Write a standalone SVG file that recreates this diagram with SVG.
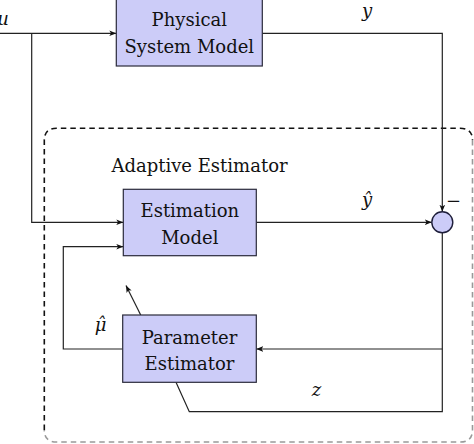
<svg xmlns="http://www.w3.org/2000/svg" width="474" height="444" viewBox="0 0 474 444">
  <defs>
    <marker id="arr" viewBox="0 0 10 10" refX="10" refY="5" markerWidth="7" markerHeight="7" markerUnits="userSpaceOnUse" orient="auto">
      <path d="M0,1 L10,5 L0,9 L2.5,5 Z" fill="#111"/>
    </marker>
    <style>
      .box { fill: #ccccf8; stroke: #2a2a3a; stroke-width: 1.2; }
      .lbl { font-family: 'DejaVu Serif', 'Liberation Serif', serif; font-size: 18px; fill: #111; text-anchor: middle; }
      .math { font-family: 'DejaVu Serif', 'Liberation Serif', serif; font-size: 18px; font-style: italic; fill: #111; text-anchor: middle; }
      .wire { fill: none; stroke: #222; stroke-width: 1.2; }
      .dash { fill: none; stroke-width: 1.6; stroke-dasharray: 5.5 4; }
    </style>
  </defs>

  <g id="adaptive-estimator-frame">
    <path class="dash" stroke="#111" d="M44.3,430 L44.3,140.5 Q44.3,128.3 56.5,128.3 L460,128.3 Q472.5,128.3 472.5,140"/>
    <path class="dash" stroke="#999" d="M472.5,140 L472.5,430 Q472.5,442 460,442 L56.5,442 Q44.3,442 44.3,430"/>
    <text class="lbl" x="199.5" y="172">Adaptive Estimator</text>
  </g>

  <g id="connectors">
    <path class="wire" d="M0,33.3 L116.3,33.3" marker-end="url(#arr)"/>
    <path class="wire" d="M31.7,33.3 L31.7,222.3 L123.3,222.3" marker-end="url(#arr)"/>
    <path class="wire" d="M262.3,33.3 L442.3,33.3 L442.3,211.8" marker-end="url(#arr)"/>
    <path class="wire" d="M256.3,222.3 L431.8,222.3" marker-end="url(#arr)"/>
    <path class="wire" d="M442.3,232.8 L442.3,411.7 L189.3,411.7 L176,382.3"/>
    <path class="wire" d="M442.3,349 L256.3,349" marker-end="url(#arr)"/>
    <path class="wire" d="M122.7,349 L63.3,349 L63.3,246.7 L123.3,246.7" marker-end="url(#arr)"/>
    <path class="wire" d="M140.7,315 L126,285.5" marker-end="url(#arr)"/>
    <text class="math" x="3" y="25">u</text>
    <text class="math" x="367" y="16.5">y</text>
    <text class="math" x="367" y="206">ŷ</text>
    <text class="math" x="100.5" y="331">μ̂</text>
    <text class="math" x="316.5" y="396">z</text>
    <text class="lbl" x="453.5" y="207">−</text>
  </g>

  <g id="physical-system-model">
    <rect class="box" x="116.3" y="-1.5" width="146" height="67.5"/>
    <text class="lbl" x="189.3" y="25.5">Physical</text>
    <text class="lbl" x="189.3" y="52.5">System Model</text>
  </g>

  <g id="estimation-model">
    <rect class="box" x="123.3" y="189.3" width="133" height="66.4"/>
    <text class="lbl" x="189.8" y="217">Estimation</text>
    <text class="lbl" x="189.8" y="244">Model</text>
  </g>

  <g id="parameter-estimator">
    <rect class="box" x="122.7" y="315" width="133.6" height="67.3"/>
    <text class="lbl" x="189.5" y="343.5">Parameter</text>
    <text class="lbl" x="189.5" y="370">Estimator</text>
  </g>

  <g id="summing-junction">
    <circle cx="442.3" cy="222.3" r="10.5" fill="#ccccf8" stroke="#1e1e3a" stroke-width="1.4"/>
  </g>
</svg>
